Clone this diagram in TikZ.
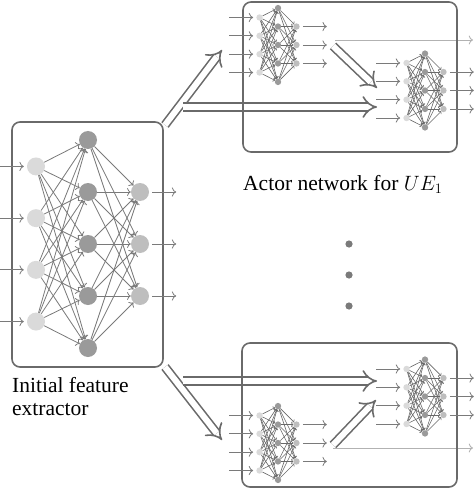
\documentclass[tikz,border=0pt]{standalone}
\usepackage{fontspec}
\setmainfont{Liberation Serif}
\usetikzlibrary{arrows.meta}
\definecolor{inputgray}{HTML}{DADADA}
\definecolor{hiddengray}{HTML}{9A9A9A}
\definecolor{outputgray}{HTML}{BEBEBE}
\definecolor{edgegray}{HTML}{7A7A7A}
\definecolor{framegray}{HTML}{6A6A6A}
\definecolor{feedgray}{HTML}{B2B2B2}
\newcommand{\LabelFont}{\fontsize{21.5}{23}\selectfont}
% one fully connected net: prefix, centre x, centre y, scale, edge style
\newcommand{\Layers}[5]{%
  \foreach \i in {1,...,4}
    \node[unit,fill=inputgray,minimum size={18pt*#4}] (#1-in\i) at ({#2-52*#4},{#3+(\i-2.5)*51.7*#4}) {};
  \foreach \j in {1,...,5}
    \node[unit,fill=hiddengray,minimum size={18pt*#4}] (#1-hid\j) at (#2,{#3+(\j-3)*52*#4}) {};
  \foreach \k in {1,2,3}
    \node[unit,fill=outputgray,minimum size={18pt*#4}] (#1-out\k) at ({#2+52*#4},{#3+(\k-2)*52*#4}) {};
  \foreach \i in {1,...,4}
    \foreach \j in {1,...,5}
      \draw[#5] (#1-in\i) -- (#1-hid\j);
  \foreach \j in {1,...,5}
    \foreach \k in {1,2,3}
      \draw[#5] (#1-hid\j) -- (#1-out\k);
  \foreach \i in {1,...,4} {
    \path (#1-in\i.west) ++(-27,0) coordinate (#1-src\i) ++(24,0) coordinate (#1-dst\i);
    \draw[ioarrow] (#1-src\i) -- (#1-dst\i);
  }
  \foreach \k in {1,2,3} {
    \path (#1-out\k.east) ++(3,0) coordinate (#1-tx\k) ++(24,0) coordinate (#1-rx\k);
    \draw[ioarrow] (#1-tx\k) -- (#1-rx\k);
  }
}

\begin{document}
\begin{tikzpicture}[x=1pt,y=-1pt,
  unit/.style={circle,inner sep=0pt,draw=none},
  bigedge/.style={draw=edgegray,line width=.8pt,-{To[scale=1.1]}},
  smalledge/.style={draw=edgegray!85!black,line width=.6pt,-{To[scale=.7]}},
  ioarrow/.style={draw=edgegray,line width=.8pt,-{To[scale=1.3]}},
  handover/.style={draw=framegray,double=white,double distance=6pt,line width=1.6pt,-{Implies[scale=1.3]}},
  feed/.style={draw=feedgray,line width=.9pt,-{To[scale=1.2]}},
  panel/.style={draw=framegray,line width=1.6pt,rounded corners=8pt}]
  \useasboundingbox (0,0) rectangle (474,489);

  % hand-over points
  \coordinate (fe-up) at (165,125);
  \coordinate (fe-down) at (165,367);
  \coordinate (top-in) at (222,50);
  \coordinate (bot-in) at (222,440);
  \coordinate (top-split) at (183,107);
  \coordinate (bot-split) at (183,381);
  \coordinate (top-merge) at (377,107);
  \coordinate (bot-merge) at (377,381);
  \coordinate (top-out) at (333,46);
  \coordinate (top-join) at (377,88);
  \coordinate (bot-out) at (333,445);
  \coordinate (bot-join) at (376,400);
  \coordinate (top-feed) at (335,40);
  \coordinate (top-exit) at (473,40);
  \coordinate (bot-feed) at (333,448);
  \coordinate (bot-exit) at (473,448);

  \draw[handover] (fe-up) -- (top-in);
  \draw[handover] (top-split) -- (top-merge);
  \draw[handover] (fe-down) -- (bot-in);
  \draw[handover] (bot-split) -- (bot-merge);
  \draw[handover] (top-out) -- (top-join);
  \draw[handover] (bot-out) -- (bot-join);
  \draw[feed] (top-feed) -- (top-exit);
  \draw[feed] (bot-feed) -- (bot-exit);

  % frames
  \draw[panel] (12,122) rectangle (163,367);
  \draw[panel] (243,2) rectangle (457,152);
  \draw[panel] (242,343) rectangle (457,487);

  % nets
  \Layers{fe}{88}{244}{1}{bigedge}
  \Layers{ta}{278}{45}{.355}{smalledge}
  \Layers{tb}{425}{90.5}{.355}{smalledge}
  \Layers{ba}{278}{443}{.355}{smalledge}
  \Layers{bb}{425}{396.5}{.355}{smalledge}

  \foreach \d in {244,275,306}
    \fill[edgegray] (349,\d) circle (3.6pt);

  \node[anchor=north west,align=left,inner sep=0pt,font=\LabelFont] (fe-label) at (12,377) {Initial feature\\extractor};
  \node[anchor=base west,inner sep=0pt,font=\LabelFont] (actor-label) at (243,190) {Actor network for $UE_1$};
\end{tikzpicture}
\end{document}
